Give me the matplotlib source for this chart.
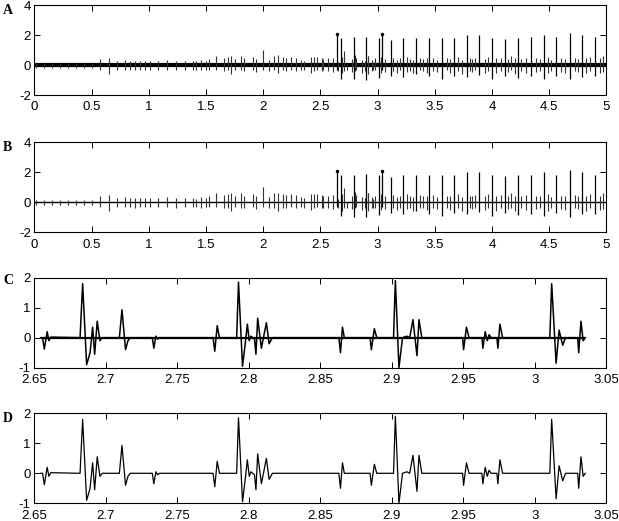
import numpy as np
import matplotlib
matplotlib.use("Agg")
import matplotlib.pyplot as plt

plt.rcParams["font.family"] = ["Liberation Sans", "DejaVu Sans"]

# ---- panels A/B: 5 s spike train (times in s, peak up / peak down) ----
small_t = [0.015, 0.081, 0.151, 0.221, 0.291, 0.361, 0.431, 0.503, 0.573, 0.654,
           0.727, 0.794, 0.838, 0.881, 0.925, 0.969, 1.012, 1.085, 1.158, 1.236,
           1.321, 1.384, 1.414, 1.457, 1.501, 1.530, 1.588, 1.661, 1.690, 1.719,
           1.757, 1.806, 1.835, 1.908, 1.937, 2.001, 2.053, 2.097, 2.126, 2.170,
           2.199, 2.243, 2.286, 2.330, 2.359, 2.417, 2.446, 2.475, 2.519, 2.527,
           2.571, 2.615, 2.657, 2.692, 2.711, 2.734, 2.777, 2.799, 2.806, 2.812,
           2.864, 2.887, 2.915, 2.919, 2.951, 2.964, 2.975, 3.017, 3.031, 3.066,
           3.138, 3.168, 3.197, 3.255, 3.284, 3.313, 3.371, 3.400, 3.429, 3.487,
           3.516, 3.604, 3.633, 3.706, 3.735, 3.808, 3.822, 3.851, 3.938, 3.967,
           4.040, 4.078, 4.142, 4.171, 4.200, 4.258, 4.302, 4.389, 4.418, 4.491,
           4.520, 4.608, 4.637, 4.724, 4.753, 4.826, 4.855, 4.942, 4.971]
small_up = [0.15, 0.15, 0.15, 0.15, 0.15, 0.15, 0.15, 0.15, 0.40, 0.48,
            0.30, 0.35, 0.30, 0.30, 0.30, 0.30, 0.30, 0.30, 0.35, 0.30,
            0.30, 0.30, 0.25, 0.35, 0.30, 0.40, 0.60, 0.50, 0.55, 0.60,
            0.40, 0.60, 0.45, 0.55, 0.40, 1.00, 0.35, 0.60, 0.65, 0.55,
            0.50, 0.55, 0.50, 0.35, 0.30, 0.55, 0.55, 0.55, 0.50, 0.40,
            0.45, 0.50, 0.20, 0.55, 0.93, 0.05, 0.40, 0.50, 0.70, 0.50,
            0.35, 0.30, 0.60, 0.60, 0.35, 0.20, 0.45, 0.25, 0.55, 0.40,
            0.50, 0.35, 0.45, 0.55, 0.40, 0.35, 0.50, 0.40, 0.45, 0.50,
            0.35, 0.45, 0.40, 0.55, 0.35, 0.45, 0.40, 0.50, 0.40, 0.55,
            0.45, 0.50, 0.40, 0.60, 0.45, 0.40, 0.50, 0.45, 0.40, 0.55,
            0.35, 0.45, 0.40, 0.50, 0.40, 0.45, 0.55, 0.45, 0.60]
small_dn = [-0.20, -0.20, -0.20, -0.20, -0.20, -0.20, -0.20, -0.20, -0.30, -0.60,
            -0.30, -0.30, -0.30, -0.35, -0.30, -0.30, -0.30, -0.30, -0.30, -0.35,
            -0.30, -0.30, -0.30, -0.35, -0.30, -0.30, -0.30, -0.40, -0.35, -0.60,
            -0.30, -0.35, -0.40, -0.30, -0.45, -0.30, -0.40, -0.35, -0.55, -0.35,
            -0.40, -0.30, -0.40, -0.30, -0.35, -0.50, -0.40, -0.30, -0.40, -0.35,
            -0.40, -0.45, -0.38, -0.55, -0.40, -0.35, -0.45, -0.10, -0.40, -0.30,
            -0.50, -0.40, -0.60, -0.20, -0.40, -0.35, -0.35, -0.25, -0.50, -0.45,
            -0.40, -0.50, -0.35, -0.45, -0.40, -0.55, -0.35, -0.40, -0.50, -0.40,
            -0.45, -0.35, -0.50, -0.40, -0.60, -0.40, -0.45, -0.35, -0.50, -0.40,
            -0.55, -0.40, -0.45, -0.35, -0.60, -0.40, -0.50, -0.45, -0.40, -0.55,
            -0.40, -0.45, -0.50, -0.40, -0.45, -0.55, -0.40, -0.50, -0.45]

big_t = [2.684, 2.793, 2.9025, 3.012, 3.120, 3.226, 3.340, 3.447, 3.561, 3.668,
         3.780, 3.891, 4.000, 4.113, 4.228, 4.340, 4.453, 4.563, 4.679, 4.791, 4.903]
big_up = [1.80, 1.85, 1.90, 1.80, 1.70, 1.80, 1.80, 1.80, 1.80, 1.80,
          2.00, 2.00, 1.80, 1.75, 1.80, 1.85, 2.00, 1.85, 2.15, 2.00, 1.85]
big_dn = [-0.90, -0.95, -1.00, -0.85, -0.70, -0.80, -0.60, -0.75, -0.90, -0.70,
          -0.80, -0.65, -0.90, -0.70, -0.85, -0.75, -0.90, -0.70, -0.95, -0.80, -0.75]

# window shown in C/D, marked by dots in A/B
mark_t = [2.65, 3.035]
mark_v = [2.1, 2.1]

# ---- panels C/D: zoomed trace (s, amplitude) ----
trace_t = [2.6544, 2.6558, 2.6570, 2.6590, 2.6602, 2.6615, 2.6820, 2.6838, 2.6866, 2.6890,
           2.6908, 2.6922, 2.6940, 2.6959, 2.6975, 2.7095, 2.7113, 2.7138, 2.7155, 2.7170,
           2.7325, 2.7336, 2.7350, 2.7362, 2.7375, 2.7750, 2.7762, 2.7779, 2.7795, 2.7915,
           2.7928, 2.7956, 2.7975, 2.7990, 2.8003, 2.8015, 2.8040, 2.8050, 2.8062, 2.8088,
           2.8123, 2.8142, 2.8165, 2.8630, 2.8641, 2.8655, 2.8668, 2.8848, 2.8857, 2.8878,
           2.8895, 2.9012, 2.9025, 2.9050, 2.9075, 2.9105, 2.9125, 2.9148, 2.9176, 2.9190,
           2.9210, 2.9495, 2.9502, 2.9522, 2.9540, 2.9630, 2.9637, 2.9653, 2.9668, 2.9680,
           2.9695, 2.9735, 2.9742, 2.9756, 2.9775, 3.0105, 3.0118, 3.0149, 3.0170, 3.0195,
           3.0215, 3.0300, 3.0307, 3.0323, 3.0338, 3.0353]
trace_v = [0.00, 0.00, -0.38, 0.20, -0.10, 0.02, 0.00, 1.80, -0.90, -0.50,
           0.35, -0.55, 0.55, -0.10, 0.00, 0.00, 0.93, -0.40, -0.10, 0.00,
           0.00, -0.35, 0.05, -0.05, 0.00, 0.00, -0.45, 0.40, 0.00, 0.00,
           1.85, -0.95, -0.20, 0.45, -0.10, 0.05, -0.05, -0.55, 0.65, -0.35,
           0.50, -0.20, 0.00, 0.00, -0.50, 0.35, 0.00, 0.00, -0.40, 0.30,
           0.00, 0.00, 1.90, -1.00, 0.00, 0.05, 0.00, 0.60, -0.60, 0.60,
           0.00, 0.00, -0.40, 0.35, 0.00, 0.00, -0.35, 0.20, -0.10, 0.10,
           0.00, 0.00, -0.35, 0.45, 0.00, 0.00, 1.80, -0.85, 0.25, -0.25,
           0.00, 0.00, -0.50, 0.55, -0.10, 0.00]

xticks_ab = [0, 0.5, 1, 1.5, 2, 2.5, 3, 3.5, 4, 4.5, 5]
xlabels_ab = ["0", "0.5", "1", "1.5", "2", "2.5", "3", "3.5", "4", "4.5", "5"]
yticks_ab = [-2, 0, 2, 4]
xticks_cd = [2.65, 2.7, 2.75, 2.8, 2.85, 2.9, 2.95, 3.0, 3.05]
xlabels_cd = ["2.65", "2.7", "2.75", "2.8", "2.85", "2.9", "2.95", "3", "3.05"]
yticks_cd = [-1, 0, 1, 2]

W, H = 619, 521


def add_axes_px(fig, left, top, width, height):
    return fig.add_axes([left / W, 1 - (top + height) / H, width / W, height / H])


def style_axes(ax, xticks, xlabels, yticks, xlim, ylim):
    ax.set_xlim(*xlim)
    ax.set_ylim(*ylim)
    ax.set_xticks(xticks)
    ax.set_xticklabels(xlabels)
    ax.set_yticks(yticks)
    ax.set_yticklabels([str(v) for v in yticks])
    ax.tick_params(direction="in", top=True, right=True, length=4, width=0.7,
                   labelsize=9.5)
    ax.tick_params(axis="x", pad=4.5)
    ax.tick_params(axis="y", pad=2.5)
    for sp in ax.spines.values():
        sp.set_linewidth(0.8)


def plot_train(ax, noisy):
    lw_base = 3.0 if noisy else 1.0
    ax.plot([0, 5], [0, 0], color="black", lw=lw_base, solid_capstyle="butt")
    ax.vlines(small_t, small_dn, small_up, color="#333333", lw=0.8)
    ax.vlines(big_t, big_dn, big_up, color="black", lw=0.9)
    ax.vlines(mark_t, [-0.3, -0.3], mark_v, color="black", lw=0.9)
    ax.plot(mark_t, mark_v, ".", color="black", ms=3)


def plot_trace(ax, noisy):
    if noisy:
        ax.plot([trace_t[0], trace_t[-1]], [0, 0], color="black", lw=1.6,
                solid_capstyle="butt")
    ax.plot(trace_t, trace_v, color="black", lw=1.1 if noisy else 0.9)


def main():
    fig = plt.figure(figsize=(W / 100, H / 100), dpi=100)

    ax_a = add_axes_px(fig, 34.3, 5, 572, 90)
    ax_b = add_axes_px(fig, 34.3, 142.3, 572, 90)
    ax_c = add_axes_px(fig, 34.3, 277.7, 572, 90)
    ax_d = add_axes_px(fig, 34.3, 413.3, 572, 90)

    plot_train(ax_a, noisy=True)
    plot_train(ax_b, noisy=False)
    plot_trace(ax_c, noisy=True)
    plot_trace(ax_d, noisy=False)

    for ax in (ax_a, ax_b):
        style_axes(ax, xticks_ab, xlabels_ab, yticks_ab, (0, 5), (-2, 4))
    for ax in (ax_c, ax_d):
        style_axes(ax, xticks_cd, xlabels_cd, yticks_cd, (2.65, 3.05), (-1, 2))

    for lab, top in zip("ABCD", [4, 141, 274, 412]):
        fig.text(3 / W, 1 - top / H, lab, ha="left", va="top", fontsize=10,
                 fontweight="bold", family=["Liberation Serif", "DejaVu Serif"])

    fig.savefig("out.png", dpi=100)


if __name__ == "__main__":
    main()
